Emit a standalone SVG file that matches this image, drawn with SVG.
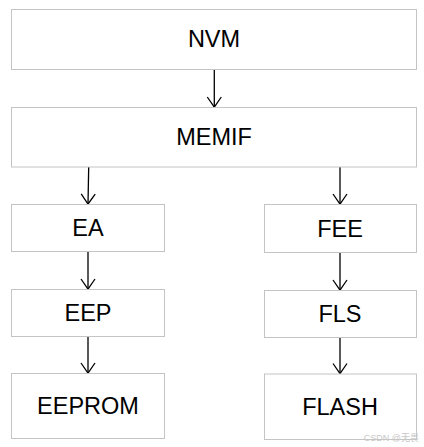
<svg xmlns="http://www.w3.org/2000/svg" width="424" height="447" viewBox="0 0 424 447">
<style>
.box{fill:#fff;stroke:#c4c4c4;stroke-width:1}
.lbl{font-family:"Liberation Sans",Arial,sans-serif;font-size:23.5px;fill:#000;text-anchor:middle}
.arr{stroke:#000;stroke-width:1.3;fill:none;marker-end:url(#ah)}
.wm{font-family:"Liberation Sans","Noto Sans CJK SC",sans-serif;font-size:9px;fill:#c8c8c8;text-anchor:end}
</style>
<defs>
<marker id="ah" markerWidth="12" markerHeight="16" refX="11" refY="8" orient="auto" markerUnits="userSpaceOnUse" viewBox="0 0 12 16" overflow="visible">
<path d="M1,1 L11,8 L1,15" fill="none" stroke="#000" stroke-width="1.3"/>
</marker>
</defs>
<rect width="424" height="447" fill="#fff"/>
<g id="connectors">
<line class="arr" x1="214.3" y1="69.5" x2="214.3" y2="107"/>
<line class="arr" x1="88.7" y1="167" x2="88" y2="204"/>
<line class="arr" x1="340" y1="167" x2="340" y2="204"/>
<line class="arr" x1="88" y1="251.5" x2="88" y2="289"/>
<line class="arr" x1="340" y1="252.5" x2="340" y2="290"/>
<line class="arr" x1="88" y1="336.5" x2="88" y2="373"/>
<line class="arr" x1="340" y1="337.5" x2="340" y2="373.5"/>
</g>
<g id="nvm"><rect class="box" x="11.5" y="9.5" width="405" height="60"/><text class="lbl" x="214" y="47">NVM</text></g>
<g id="memif"><rect class="box" x="11.5" y="107.5" width="405" height="59.5"/><text class="lbl" x="214" y="145">MEMIF</text></g>
<g id="ea"><rect class="box" x="11.5" y="204.5" width="153" height="47"/><text class="lbl" x="88" y="236">EA</text></g>
<g id="fee"><rect class="box" x="264.5" y="204.5" width="152" height="48"/><text class="lbl" x="340" y="237">FEE</text></g>
<g id="eep"><rect class="box" x="11.5" y="289.5" width="153" height="47"/><text class="lbl" x="88" y="321">EEP</text></g>
<g id="fls"><rect class="box" x="264.5" y="290.5" width="152" height="47"/><text class="lbl" x="340" y="322">FLS</text></g>
<g id="eeprom"><rect class="box" x="11.5" y="373.5" width="153" height="65"/><text class="lbl" x="88" y="414">EEPROM</text></g>
<g id="flash"><rect class="box" x="264.5" y="374" width="152" height="65.5"/><text class="lbl" x="340" y="415">FLASH</text></g>
<text class="wm" x="419" y="441">CSDN @无畏</text>
</svg>
